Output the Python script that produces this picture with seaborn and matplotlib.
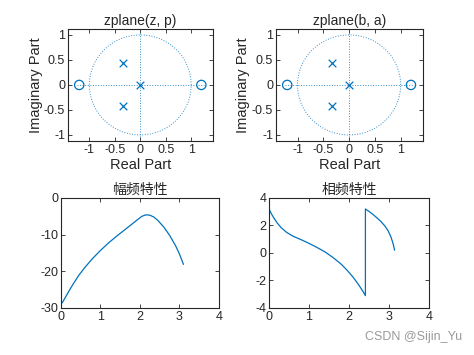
import numpy as np
import pandas as pd
import matplotlib
matplotlib.use("Agg")
import matplotlib.pyplot as plt
import seaborn as sns

# zeros / poles
zeros_re = [-1.2, 1.2]
zeros_im = [0.0, 0.0]
poles_re = [0.0, -0.33, -0.33]
poles_im = [0.0, 0.44, -0.43]

# magnitude response (dB)
mag_w = [0.03, 0.1, 0.2, 0.3, 0.45, 0.6, 0.8, 1.0, 1.2, 1.4, 1.6, 1.8, 1.95,
         2.05, 2.15, 2.25, 2.35, 2.45, 2.6, 2.75, 2.9, 3.0, 3.1]
mag_db = [-28.6, -27.3, -25.4, -23.6, -21.1, -19.0, -16.5, -14.3, -12.3, -10.5,
          -8.8, -7.1, -5.8, -5.0, -4.6, -4.7, -5.2, -6.1, -7.9, -10.2, -13.0,
          -15.3, -18.1]

# phase response (rad)
ph_w = [0.0, 0.05, 0.11, 0.2, 0.3, 0.44, 0.6, 0.8, 1.0, 1.2, 1.4, 1.6, 1.8,
        1.95, 2.1, 2.25, 2.35, 2.41, 2.41, 2.5, 2.6, 2.7, 2.8, 2.9, 2.98, 3.05, 3.1, 3.14]
ph_rad = [3.2, 2.9, 2.6, 2.2, 1.85, 1.5, 1.22, 0.97, 0.7, 0.4, 0.08, -0.33, -0.8,
          -1.25, -1.75, -2.35, -2.8, -3.1, 3.2, 3.02, 2.8, 2.55, 2.28, 1.95, 1.6, 1.15, 0.7, 0.2]

blue = "#0072BD"
frame = "#262626"

sns.set_theme(style="white")
plt.rcParams["font.family"] = ["Liberation Sans", "Noto Sans CJK SC", "DejaVu Sans"]
plt.rcParams["axes.edgecolor"] = frame
plt.rcParams["axes.linewidth"] = 0.8
plt.rcParams["axes.unicode_minus"] = False

fig = plt.figure(figsize=(4.74, 3.55), dpi=100)
ax1 = fig.add_axes([0.1435, 0.603, 0.306, 0.3155])
ax2 = fig.add_axes([0.582, 0.603, 0.310, 0.3155])
ax3 = fig.add_axes([0.1287, 0.1324, 0.3333, 0.31])
ax4 = fig.add_axes([0.5675, 0.1324, 0.3376, 0.31])

zdf = pd.DataFrame({"re": zeros_re, "im": zeros_im})
pdf = pd.DataFrame({"re": poles_re, "im": poles_im})
theta = np.linspace(0, 2 * np.pi, 200)

for ax, title in [(ax1, "zplane(z, p)"), (ax2, "zplane(b, a)")]:
    ax.plot(np.cos(theta), np.sin(theta), ls=":", color=blue, lw=0.7, alpha=0.8)
    ax.plot([-1.25, 1.25], [0, 0], ls=":", color=blue, lw=0.7, alpha=0.8)
    ax.plot([0, 0], [-1.05, 1.05], ls=":", color=blue, lw=0.7, alpha=0.8)
    sns.scatterplot(data=zdf, x="re", y="im", ax=ax, marker="o", s=45,
                    facecolors="none", edgecolor=blue, linewidth=0.9)
    sns.scatterplot(data=pdf, x="re", y="im", ax=ax, marker="x", s=30,
                    color=blue, linewidth=0.9)
    ax.set_xlim(-1.42, 1.43)
    ax.set_ylim(-1.12, 1.12)
    ax.set_xticks([-1, -0.5, 0, 0.5, 1])
    ax.set_xticklabels(["-1", "-0.5", "0", "0.5", "1"])
    ax.set_yticks([-1, -0.5, 0, 0.5, 1])
    ax.set_yticklabels(["-1", "-0.5", "0", "0.5", "1"])
    ax.set_xlabel("Real Part", fontsize=10.5, labelpad=2)
    ax.set_ylabel("Imaginary Part", fontsize=10.5, labelpad=1)
    ax.set_title(title, fontsize=10, pad=3)

sns.lineplot(x=mag_w, y=mag_db, ax=ax3, color=blue, lw=0.9, sort=False,
             estimator=None)
ax3.set_xlim(0, 4)
ax3.set_ylim(-30, 0)
ax3.set_xticks([0, 1, 2, 3, 4])
ax3.set_yticks([-30, -20, -10, 0])
ax3.set_title("幅频特性", fontsize=10, pad=3)

sns.lineplot(x=ph_w, y=ph_rad, ax=ax4, color=blue, lw=0.9, sort=False,
             estimator=None)
ax4.set_xlim(0, 4)
ax4.set_ylim(-4, 4)
ax4.set_xticks([0, 1, 2, 3, 4])
ax4.set_yticks([-4, -2, 0, 2, 4])
ax4.set_title("相频特性", fontsize=10, pad=3)

for ax in (ax1, ax2, ax3, ax4):
    ax.tick_params(direction="in", length=3, width=0.6, labelsize=9,
                   colors=frame, top=True, right=True, pad=2,
                   bottom=True, left=True)
    for sp in ax.spines.values():
        sp.set_color(frame)

fig.text(0.975, 0.035, "CSDN @Sijin_Yu", ha="right", va="bottom",
         fontsize=9, color="#9a9a9a")

fig.savefig("out.png", dpi=100)
